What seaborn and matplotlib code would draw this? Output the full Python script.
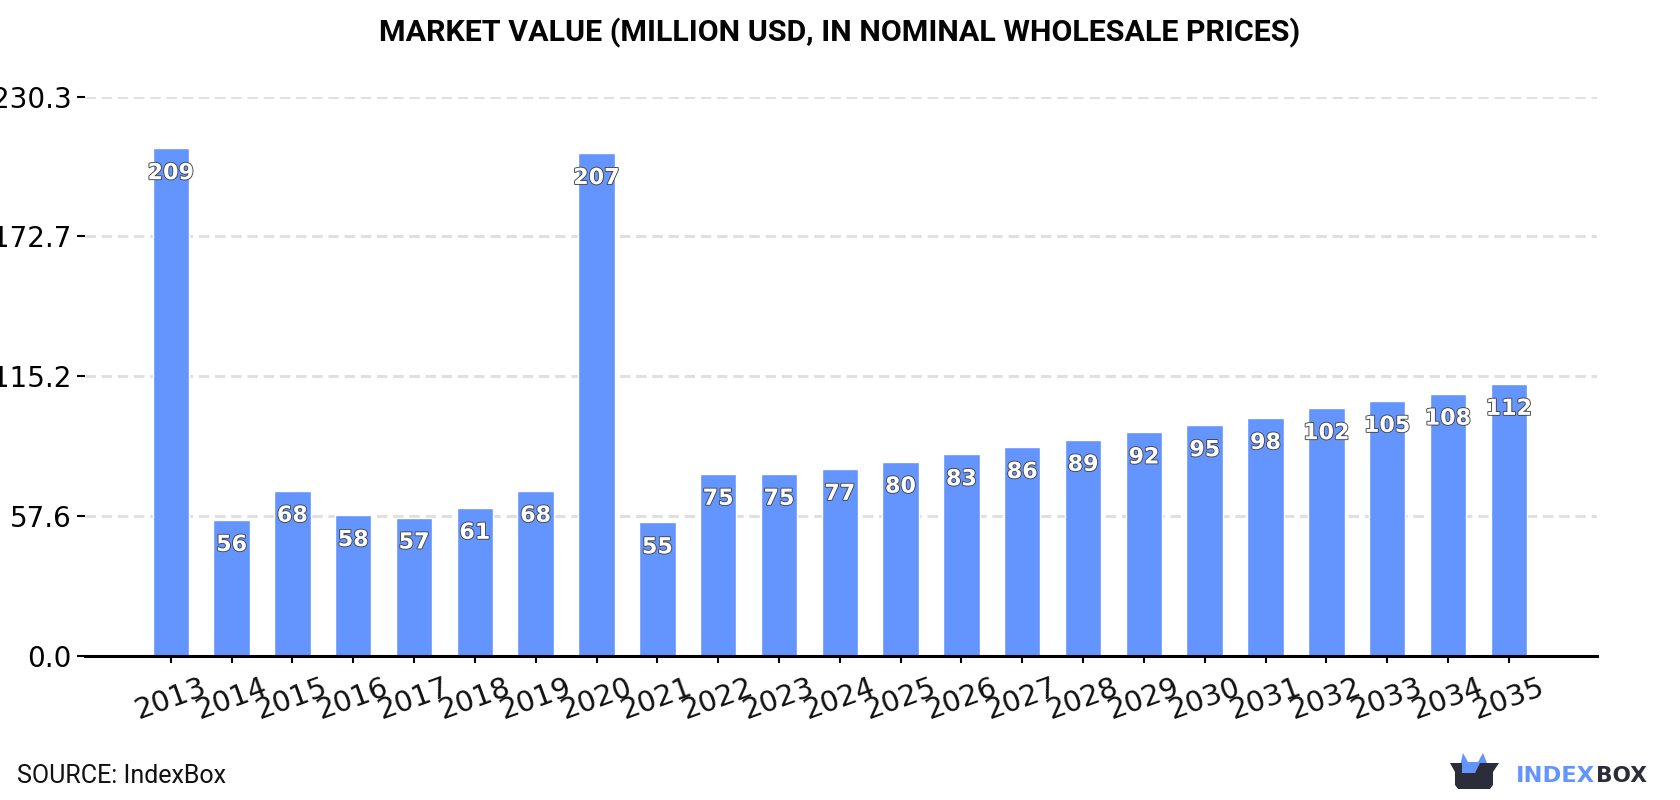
import matplotlib
matplotlib.use("Agg")
import matplotlib.pyplot as plt
import matplotlib.patheffects as pe
from matplotlib.patches import Polygon
import pandas as pd
import seaborn as sns

years = [2013, 2014, 2015, 2016, 2017, 2018, 2019, 2020, 2021, 2022, 2023, 2024,
         2025, 2026, 2027, 2028, 2029, 2030, 2031, 2032, 2033, 2034, 2035]
values = [209, 56, 68, 58, 57, 61, 68, 207, 55, 75, 75, 77,
          80, 83, 86, 89, 92, 95, 98, 102, 105, 108, 112]
y_ticks = [0.0, 57.6, 115.2, 172.7, 230.3]
title = "MARKET VALUE (MILLION USD, IN NOMINAL WHOLESALE PRICES)"
source = "SOURCE: IndexBox"

BLUE = "#6495ff"
DARK = "#2b2d3a"

sns.set_theme(style="white")
df = pd.DataFrame({"year": years, "value": values})

fig = plt.figure(figsize=(16.8, 8), dpi=100)
W, H = 1680, 800
ax = fig.add_axes([85 / W, 1 - 656 / H, (1597 - 85) / W, (656 - 96.5) / H])

sns.barplot(data=df, x="year", y="value", color=BLUE, saturation=1, width=0.6,
            order=years, ax=ax, zorder=3)

ax.set_xlim(-1.41, 23.45)
ax.set_ylim(0, 230.3)
ax.set_xlabel("")
ax.set_ylabel("")
ax.set_yticks(y_ticks)
ax.set_yticklabels([f"{v:.1f}" for v in y_ticks], fontsize=20, color="black",
                   family="DejaVu Sans")
ax.set_xticks(range(len(years)))
ax.set_xticklabels(years, rotation=20, fontsize=21, color="#111111", family="DejaVu Sans")
ax.tick_params(axis="y", length=5.8, width=1.5, color="black", pad=4, left=True)
ax.tick_params(axis="x", length=5, width=1.5, color="black", pad=7, bottom=True)

ax.grid(axis="y", color="#e0e0e0", linestyle=(0, (3.4, 1.9)), linewidth=2.2, zorder=0)
ax.set_axisbelow(True)
for side in ("top", "right", "left"):
    ax.spines[side].set_visible(False)
ax.spines["bottom"].set_color("black")
ax.spines["bottom"].set_linewidth(2.2)
ax.spines["bottom"].set_zorder(5)

# value labels sit just inside the top of each bar
for i, v in enumerate(values):
    ax.annotate(str(v), (i, v), xytext=(0, -18), textcoords="offset points",
                ha="center", va="center", fontsize=16, fontweight="bold",
                color="white", family="DejaVu Sans", zorder=6,
                path_effects=[pe.withStroke(linewidth=1.3, foreground="#444444")])

fig.text(0.5, 1 - 33 / H, title, ha="center", va="center", fontsize=21.9,
         fontweight="bold", family="Roboto", color="#050505")
fig.text(17 / W, 1 - 776 / H, source, ha="left", va="center", fontsize=18,
         family="Roboto", color="#111111")

# IndexBox wordmark and box emblem
logo = fig.add_axes([0, 0, 1, 1], facecolor="none")
logo.set_xlim(0, W)
logo.set_ylim(H, 0)
logo.axis("off")
logo.add_patch(Polygon([[1460, 766], [1463, 753], [1468, 762], [1478, 762], [1483, 753],
                        [1487, 763], [1480, 770], [1475, 774], [1462, 774]],
                       closed=True, fc=BLUE, ec="none"))
logo.add_patch(Polygon([[1450, 763], [1462, 763], [1462, 773], [1475, 773], [1480, 763],
                        [1499, 763], [1493, 772], [1493, 785], [1490, 789], [1458, 789],
                        [1455, 785], [1455, 772]],
                       closed=True, fc=DARK, ec="none"))
logo.text(1516, 775.5, "INDEX", ha="left", va="center", fontsize=16.2,
          fontweight="bold", family="DejaVu Sans", color=BLUE)
logo.text(1596, 775.5, "BOX", ha="left", va="center", fontsize=15.6,
          fontweight="bold", family="DejaVu Sans", color=DARK)

fig.savefig("out.png", dpi=100)
